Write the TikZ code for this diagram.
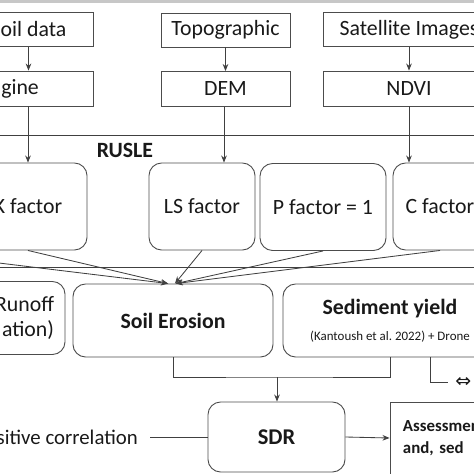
\documentclass[tikz,border=0pt]{standalone}
\usepackage{fontspec}
\setmainfont{Carlito}
\newfontfamily\symfont{DejaVu Sans}
\usepackage{tikz}
\usetikzlibrary{positioning, arrows.meta}

\begin{document}
\begin{tikzpicture}[x=0.025cm, y=-0.025cm, >={Stealth[length=5pt,width=4pt]}, font=\fontsize{15.5}{17.5}\selectfont, text=black!90]
						\tikzstyle{src}=[draw=black!70, line width=0.65pt, minimum height=0.85cm, inner sep=2pt]
						\tikzstyle{fac}=[draw=black!70, line width=0.65pt, rounded corners=9pt, minimum height=2.175cm]
						\tikzstyle{res}=[draw=black!70, line width=0.65pt, rounded corners=9pt, minimum height=1.825cm]
						\tikzstyle{wire}=[draw=black!75, line width=0.6pt]
						\useasboundingbox (0,0) rectangle (474,474);
						\clip (0,0) rectangle (474,474);
						\fill[black!22] (0,0) rectangle (474,2.5);
						% data sources
						\node[src, minimum width=3.225cm](soil) at (28.5,29.5) {Soil data};
						\node[src, minimum width=3.225cm](topo) at (225.5,30) {Topographic};
						\node[src, minimum width=4.3cm](sat) at (409,29.5) {Satellite Images};
						\node[src, minimum width=4.2cm, minimum height=0.875cm](eng) at (9,88.5) {Engine};
						\node[src, minimum width=3.225cm, minimum height=0.875cm](dem) at (225.5,89) {DEM};
						\node[src, minimum width=4.3cm, minimum height=0.875cm](ndvi) at (409,88.5) {NDVI};
						\draw[wire,->](soil.south) -- (soil.south |- eng.north);
						\draw[wire,->](topo.south -| dem.north) -- (dem.north);
						\draw[wire,->](sat.south) -- (ndvi.north);
						% RUSLE factors
						\draw[wire](0,135) -- (474,135);
						\draw[wire](0,267) -- (474,267);
						\node[font=\fontsize{15.5}{17.5}\selectfont\bfseries](rusle) at (125,150) {RUSLE};
						\node[fac, minimum width=2.95cm](kf) at (28,206.5) {K factor};
						\node[fac, minimum width=2.65cm](ls) at (202,206.5) {LS factor};
						\node[fac, minimum width=3.15cm](pf) at (323,207) {P factor = 1};
						\node[fac, minimum width=2.35cm](cf) at (440,206.5) {C factor};
						\coordinate(rf) at (-100,251);
						\draw[wire,->](eng.south -| kf.north) -- (kf.north);
						\draw[wire,->](dem.south -| 224,0) -- (224,0 |- ls.north);
						\draw[wire,->](ndvi.south) -- (ndvi.south |- cf.north);
						% erosion and sediment
						\node[res, minimum width=3.25cm, text width=2.7cm, align=right](rof) at (0,318) {Runoff\\ation)};
						\node[res, minimum width=5cm, font=\fontsize{15.5}{17.5}\selectfont\bfseries](er) at (173,320.5) {Soil Erosion};
						\node[res, minimum width=5.35cm, align=center](sy) at (390,320.5) {\textbf{Sediment yield}\\[1pt]{\fontsize{9.2}{11}\selectfont (Kantoush et al.\ 2022) + Drone}};
						\draw[wire,->](rf) -- ([xshift=-3.5pt]er.north);
						\draw[wire,->](kf.south) -- ([xshift=-3.5pt]er.north);
						\draw[wire,->](ls.south) -- ([xshift=1.4pt]er.north);
						\draw[wire,->](pf.south) -- ([xshift=2pt]er.north);
						\draw[wire,->](cf.south) -- ([xshift=2pt]er.north);
						\node[anchor=west, inner xsep=5pt, inner ysep=0pt, font=\symfont\fontsize{13.5}{15}\selectfont](eqv) at (448,382) {⇔};
						\draw[wire]([xshift=28.4pt]sy.south) |- (eqv.west);
						% SDR and assessment
						\coordinate(jn) at (277,377);
						\node[res, minimum width=3.425cm, minimum height=1.75cm, font=\fontsize{16}{18}\selectfont\bfseries](sdr) at (276.5,437) {SDR};
						\node[src, minimum width=5cm, minimum height=1.8cm, text width=4.35cm, align=left, font=\fontsize{12}{15.5}\selectfont\bfseries](asm) at (490,438) {Assessment\\and, sed};
						\node[anchor=east, inner xsep=8.5pt, font=\fontsize{14.8}{17}\selectfont](pc) at (150,437) {Positive correlation};
						\draw[wire](er.south) |- (jn) -| (sy.south);
						\draw[wire,->](jn) -- (jn |- sdr.north);
						\draw[wire](pc.east) -- (sdr.west);
						\draw[wire,->](sdr.east) -- (asm.west);
					\end{tikzpicture}
\end{document}
